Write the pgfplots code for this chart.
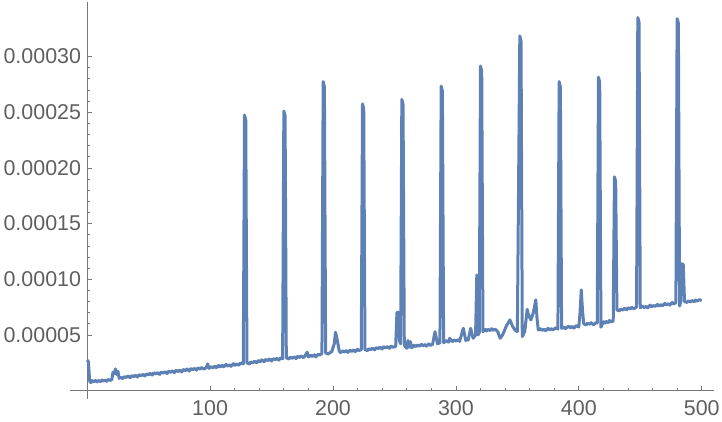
\documentclass[border=0pt]{standalone}
\usepackage{pgfplots}
\pgfplotsset{compat=1.18}
\usepackage{fontspec}
\setmainfont{Liberation Sans}
\definecolor{mmablue}{HTML}{5E81B5}
\definecolor{ticktext}{RGB}{95,95,95}
\definecolor{axisgray}{RGB}{120,120,120}

\begin{document}
\begin{tikzpicture}
  \begin{axis}[
    at={(70bp,23bp)}, anchor=south west,
    width=644bp, height=397bp, scale only axis,
    axis lines=middle,
    axis line style={-, draw=axisgray, line width=0.8bp},
    xmin=-14, xmax=510,
    ymin=-0.75, ymax=34.9,
    xtick={100,200,300,400,500},
    ytick={5,10,15,20,25,30},
    yticklabels={0.00005,0.00010,0.00015,0.00020,0.00025,0.00030},
    minor x tick num=4,
    minor y tick num=4,
    tick align=inside,
    major tick length=5bp,
    minor tick length=3bp,
    tick style={draw=axisgray, line width=0.7bp},
    ticklabel style={font=\fontsize{21.5}{25}\selectfont, text=ticktext},
    xticklabel style={anchor=north, inner sep=0pt, yshift=-10bp},
    yticklabel style={anchor=east, inner sep=0pt, xshift=-6bp},
    /pgf/number format/assume math mode=true,
  ]
  % values in units of 1e-5
  \addplot[mmablue, line width=3bp, line join=round, no marks] coordinates {
  (0,2.75)(1,2.6)(2,0.85)(3,0.72)(4,0.9)(5,0.8)(7,0.92)(8,0.78)(9,0.9)
  (11,0.82)(12,0.96)(13,0.86)(15,0.95)(16,0.84)(17,1.0)(19,0.92)(20,1.0)
  (21,1.65)(22,1.5)(23,1.95)(24,1.45)(25,1.75)(26,1.1)(27,1.2)
  (29,1.08)(30,1.24)(32,1.2)(33,1.32)(35,1.16)(36,1.34)(38,1.26)(39,1.38)
  (41,1.22)(42,1.42)(44,1.34)(45,1.46)(47,1.32)(48,1.5)(50,1.42)(51,1.56)
  (53,1.4)(54,1.6)(56,1.5)(57,1.62)(59,1.46)(60,1.66)(62,1.58)(63,1.7)
  (65,1.54)(66,1.74)(68,1.64)(69,1.78)(71,1.62)(72,1.82)(74,1.72)(75,1.84)
  (77,1.68)(78,1.9)(80,1.8)(81,1.94)(83,1.76)(84,1.98)(86,1.88)(87,2.0)
  (89,1.84)(90,2.04)(92,1.94)(93,2.08)(95,1.92)(97,2.1)(98,2.4)(99,2.0)
  (101,2.16)(102,2.04)(104,2.2)(105,2.06)(107,2.26)(108,2.12)(110,2.28)
  (111,2.14)(113,2.36)(114,2.2)(116,2.32)(117,2.18)(119,2.42)(120,2.26)
  (122,2.4)(123,2.28)(125,2.48)(127,2.4)
  (128,24.75)(129,24.3)(130,2.5)
  (132,2.38)(133,2.58)(135,2.5)(136,2.64)(138,2.5)(139,2.7)(141,2.6)
  (142,2.76)(144,2.6)(145,2.8)(147,2.7)(148,2.84)(150,2.66)(151,2.86)
  (153,2.78)(154,2.9)(156,2.74)(157,2.94)(159,2.86)
  (160,25.1)(161,24.7)(162,2.95)
  (164,2.84)(165,3.0)(167,2.9)(168,3.04)(170,2.88)(171,3.08)(173,2.98)
  (174,3.12)(176,2.96)(177,3.1)(179,3.45)(180,3.02)(182,3.18)(183,3.06)
  (185,3.22)(186,3.04)(188,3.28)(189,3.18)(191,3.34)
  (192,27.75)(193,27.3)(194,3.4)
  (196,3.28)(198,3.45)(199,3.5)(201,4.2)(202,5.25)(203,4.8)(205,3.6)
  (206,3.42)(208,3.58)(209,3.46)(211,3.6)(212,3.44)(214,3.64)(215,3.52)
  (217,3.66)(218,3.5)(220,3.72)(221,3.6)(223,3.68)
  (224,25.75)(225,25.3)(226,3.7)
  (228,3.58)(229,3.76)(231,3.68)(232,3.82)(234,3.66)(235,3.86)(237,3.78)
  (238,3.9)(240,3.74)(241,3.94)(243,3.84)(244,3.96)(246,3.8)(247,4.0)
  (249,3.9)(251,3.96)
  (252,7.0)(253,7.05)(254,4.5)(255,4.2)
  (256,26.15)(257,25.7)(258,4.1)
  (260,3.8)(261,4.5)(262,3.9)(263,4.4)(264,3.85)(266,4.08)(267,3.96)
  (269,4.1)(270,3.98)(272,4.16)(273,4.02)(275,4.14)(276,4.0)(278,4.2)
  (279,4.06)(281,4.16)(283,5.3)(285,4.2)(287,4.3)
  (288,27.35)(289,26.9)(290,4.3)
  (292,4.5)(294,4.36)(295,4.7)(297,4.4)(299,4.56)(300,4.44)(302,4.58)
  (303,4.42)(306,5.6)(308,4.5)(309,4.66)(310,4.54)(312,5.6)(314,4.7)
  (316,5.0)(317,10.4)(318,5.0)(319,5.2)
  (320,29.15)(321,28.7)(322,5.3)
  (324,5.5)(325,5.36)(326,5.5)(328,5.4)(329,5.56)(330,5.42)(332,5.52)
  (334,5.3)(336,4.7)(338,5.0)(341,5.8)(344,6.35)(346,5.8)(348,5.45)
  (350,5.3)
  (352,31.85)(353,31.4)(354,4.85)
  (356,5.3)(358,7.3)(359,6.8)(361,6.35)(363,7.0)(365,8.15)(366,6.5)
  (367,5.45)(369,5.56)(370,5.42)(372,5.5)(373,5.38)(375,5.6)(376,5.46)
  (378,5.56)(379,5.44)(381,5.64)(383,5.52)
  (384,27.75)(385,27.3)(386,5.6)
  (388,5.7)(389,5.56)(390,5.66)(392,5.8)(393,5.64)(395,5.76)(396,5.62)
  (398,5.84)(400,5.72)(401,7.0)(402,9.05)(403,7.2)(404,6.0)(406,5.9)
  (407,6.06)(409,5.96)(410,6.1)(412,5.92)(414,6.12)(415,6.06)
  (416,28.15)(417,27.7)(418,5.7)
  (420,6.18)(421,6.06)(422,6.22)(424,6.1)(425,6.3)(426,6.18)(428,6.24)
  (429,19.2)(430,18.8)(431,7.25)
  (433,7.16)(434,7.32)(436,7.24)(437,7.4)(439,7.26)(440,7.44)(442,7.34)
  (443,7.48)(445,7.36)(447,7.52)
  (448,33.5)(449,33.1)(450,7.45)
  (452,7.58)(453,7.46)(455,7.56)(456,7.44)(458,7.68)(459,7.54)(461,7.64)
  (462,7.56)(464,7.74)(465,7.6)(467,7.72)(468,7.62)(470,7.84)(471,7.7)
  (473,7.8)(474,7.68)(476,7.92)(477,7.78)(479,7.9)
  (480,33.4)(481,33.0)(482,7.6)(483,8.0)(484,11.4)(485,11.3)(486,8.0)
  (488,7.92)(489,8.06)(491,7.96)(492,8.1)(494,7.98)(495,8.14)(496,8.04)
  (498,8.16)(500,8.1)
  };
  \end{axis}
  \pgfresetboundingbox
  \useasboundingbox (0,0) rectangle (722bp,422bp);
\end{tikzpicture}
\end{document}
